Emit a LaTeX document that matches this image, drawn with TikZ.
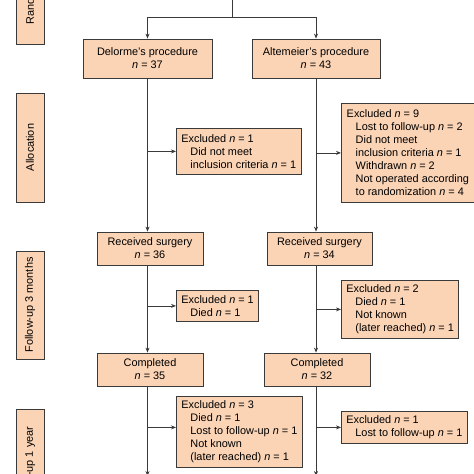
\documentclass[tikz,border=0pt]{standalone}
\usepackage{fontspec}
\setmainfont{Liberation Sans}
\usetikzlibrary{arrows.meta}
\definecolor{peach}{HTML}{FBD4B6}
\definecolor{edge}{HTML}{3A3A3A}
\newcommand{\nval}[1]{\textit{n} = #1}
\newcommand{\indt}{\hspace*{9pt}}

\begin{document}
\begin{tikzpicture}[x=1pt,y=-1pt,
  font=\fontsize{10.9}{13}\selectfont,
  every node/.style={draw=edge,fill=peach,line width=0.8pt,inner sep=0pt},
  main/.style={align=center,minimum height=39pt},
  side/.style={anchor=north west,align=left,inner xsep=5pt},
  phase/.style={rotate=90,minimum height=28pt},
  link/.style={draw=edge,line width=0.8pt},
  arr/.style={link,-{Stealth[length=5pt,width=4pt]}}]
\useasboundingbox (0,0) rectangle (474,474);
\clip (0,0) rectangle (474,474);

\node[phase,minimum width=112pt] (rnd) at (30,-12) {Randomization};
\node[phase,minimum width=109pt] (alloc) at (30,147.5) {Allocation};
\node[phase,minimum width=108pt] (fu3) at (30,305) {Follow-up 3 months};
\node[phase,minimum width=116pt] (fu1) at (30,467) {Follow-up 1 year};

\node[main,minimum width=129pt] (del) at (147.5,58.5) {Delorme's procedure\\ \nval{37}};
\node[main,minimum width=128pt] (alt) at (316,58.5) {Altemeier's procedure\\ \nval{43}};

\node[side,minimum width=124pt,minimum height=46pt] (exA) at (176,128)
  {Excluded \nval{1}\\ \indt Did not meet\\ \indt inclusion criteria \nval{1}};
\node[side,minimum width=133pt,minimum height=99pt] (exB) at (341,103)
  {Excluded \nval{9}\\ \indt Lost to follow-up \nval{2}\\ \indt Did not meet\\
   \indt inclusion criteria \nval{1}\\ \indt Withdrawn \nval{2}\\
   \indt Not operated according\\ \indt to randomization \nval{4}};

\node[main,minimum width=106pt,minimum height=33pt] (rsL) at (150,248.5) {Received surgery\\ \nval{36}};
\node[main,minimum width=105pt,minimum height=33pt] (rsR) at (319.5,248.5) {Received surgery\\ \nval{34}};

\node[side,minimum width=80pt,minimum height=31pt] (ex3L) at (176,290)
  {Excluded \nval{1}\\ \indt Died \nval{1}};
\node[side,minimum width=117pt,minimum height=58pt] (ex3R) at (341,280)
  {Excluded \nval{2}\\ \indt Died \nval{1}\\ \indt Not known\\ \indt (later reached) \nval{1}};

\node[main,minimum width=106pt,minimum height=33pt] (coL) at (150,369.5) {Completed\\ \nval{35}};
\node[main,minimum width=106pt,minimum height=33pt] (coR) at (317,369.5) {Completed\\ \nval{32}};

\node[side,minimum width=126pt,minimum height=71pt] (ex1L) at (176,396)
  {Excluded \nval{3}\\ \indt Died \nval{1}\\ \indt Lost to follow-up \nval{1}\\
   \indt Not known\\ \indt (later reached) \nval{1}};
\node[side,minimum width=123pt,minimum height=32pt] (ex1R) at (341,411)
  {Excluded \nval{1}\\ \indt Lost to follow-up \nval{1}};

\coordinate (top) at (232,-5);
\coordinate (split) at (232,17);
\coordinate (bot) at (0,476);
\draw[link] (top) -- (split);
\draw[arr] (split) -| (del);
\draw[arr] (split) -| (alt);

\draw[arr] (del) -- (del.south |- rsL.north);
\draw[arr] (alt) -- (alt.south |- rsR.north);
\draw[arr] (del.south |- rsL.south) -- (del.south |- coL.north);
\draw[arr] (alt.south |- rsR.south) -- (alt.south |- coR.north);
\draw[arr] (del.south |- coL.south) -- (del.south |- bot);
\draw[arr] (alt.south |- coR.south) -- (alt.south |- bot);

\draw[arr] (del.south |- exA.west) -- (exA.west);
\draw[arr] (alt.south |- exB.west) -- (exB.west);
\draw[arr] (del.south |- ex3L.west) -- (ex3L.west);
\draw[arr] (alt.south |- ex3R.west) -- (ex3R.west);
\draw[arr] (del.south |- ex1R.west) -- (ex1L.west |- ex1R.west);
\draw[arr] (alt.south |- ex1R.west) -- (ex1R.west);
\end{tikzpicture}
\end{document}
